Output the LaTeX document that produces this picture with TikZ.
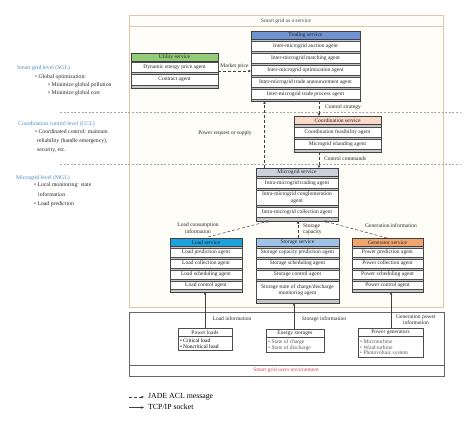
\documentclass[tikz,border=0pt]{standalone}
\usepackage{fontspec}
\setmainfont{Liberation Serif}
\usetikzlibrary{fit,arrows.meta}
\definecolor{utilg}{HTML}{93CB76}
\definecolor{tradeb}{HTML}{7094D2}
\definecolor{coordp}{HTML}{FAD8C8}
\definecolor{microg}{HTML}{C9D3DE}
\definecolor{loadb}{HTML}{1CA2DE}
\definecolor{storb}{HTML}{9FC4E7}
\definecolor{genor}{HTML}{F4A56D}
\definecolor{tanb}{HTML}{DCC6AC}
\definecolor{cream}{HTML}{FFFDF8}
\definecolor{lvlblue}{HTML}{4A8BBE}
\definecolor{envred}{HTML}{D9405E}
\newcommand\agfont{\fontsize{5.5}{6.3}\selectfont}
\newcommand\lvfont{\fontsize{5.7}{6.7}\selectfont}
\newcommand\agrow[6]{\node[rowbox, fit={(#2,#3) (#4,#5)}, label={[agtxt]center:{#6}}] (#1) {};}
\newcommand\svcbox[7]{%
  \node[svcouter, fit={(#2,#3) (#4,#5)}] (#1) {};
  \node[svchead, fill=#6, fit={(#2,#3) (#4,#3+8.5)}, label={[agtxt]center:{#7}}] (#1h) {};}
\tikzset{
  rowbox/.style={draw=black!70, fill=white, inner sep=0pt, outer sep=0pt, line width=0.4pt},
  svcouter/.style={draw=black!75, fill=black!22, inner sep=0pt, outer sep=0pt, line width=0.5pt},
  svchead/.style={draw=black!75, inner sep=0pt, outer sep=0pt, line width=0.4pt},
  agtxt/.style={font=\agfont, text=black!85, inner sep=0pt, align=center},
  lbl/.style={font=\agfont, text=black!85, inner sep=0pt, align=center},
  lvl/.style={font=\lvfont, text=black!85, inner sep=0pt, anchor=west},
  lvltitle/.style={font=\lvfont, text=lvlblue, inner sep=0pt, anchor=west},
  msg/.style={densely dashed, draw=black!75, line width=0.5pt, -{Stealth[length=3pt,width=2.6pt]}},
  sock/.style={draw=black!75, line width=0.5pt, -{Stealth[length=3pt,width=2.6pt]}},
  levelline/.style={draw=black!35, dash pattern=on 2pt off 1.6pt, line width=0.5pt},
  envbox/.style={draw=black!60, line width=0.5pt, inner sep=0pt, outer sep=0pt},
  itm/.style={font=\agfont, inner sep=0pt, anchor=west},
}
\begin{document}
\begin{tikzpicture}[x=1pt, y=-1pt]
\useasboundingbox (0,0) rectangle (474,428);
% outer service layer
\node[draw=tanb, fill=cream, line width=1pt, inner sep=0pt, fit={(129,16) (443,307)}] (sgaas) {};
\coordinate (tl) at (129,26); \coordinate (tr) at (443,26);
\draw[draw=tanb, line width=0.8pt] (tl) -- (tr);
\node[lbl, text=black!75] (sgaast) at (286,21) {Smart grid as a service};
% level lines
\coordinate (l1a) at (60,112); \coordinate (l1b) at (460,112);
\coordinate (l2a) at (60,164); \coordinate (l2b) at (460,164);
\draw[levelline] (l1a) -- (l1b);
\draw[levelline] (l2a) -- (l2b);
% left texts
\node[lvltitle] (sgl) at (17,68) {Smart grid level (SGL)};
\node[lvl] (sgl1) at (35,77) {\textbullet\ Global optimization:};
\node[lvl] (sgl2) at (48,85) {\textbullet\ Minimize global pollution};
\node[lvl] (sgl3) at (48,93.5) {\textbullet\ Minimize global cost};
\node[lvltitle] (ccl) at (18,124) {Coordination control level (CCL)};
\node[lvl] (ccl1) at (35,132) {\textbullet\ Coordinated control: maintain};
\node[lvl] (ccl2) at (37,141) {reliability (handle emergency),};
\node[lvl] (ccl3) at (37,150) {security, etc.};
\node[lvltitle] (mgl) at (16,178) {Microgrid level (MGL)};
\node[lvl] (mgl1) at (34,185.5) {\textbullet\ Local monitoring: state};
\node[lvl] (mgl2) at (38,194.5) {information};
\node[lvl] (mgl3) at (34,204) {\textbullet\ Load prediction};
% utility service
\svcbox{util}{131}{53}{218}{88}{utilg}{Utility service}
\agrow{ut1}{131}{62.5}{218}{72}{Dynamic energy price agent}
\agrow{ut2}{131}{74.5}{218}{85}{Contract agent}
% trading service
\svcbox{trade}{251}{31}{360}{101}{tradeb}{Trading service}
\agrow{tr1}{251}{41.5}{360}{51.4}{Inter-microgrid auction agent}
\agrow{tr2}{251}{53.4}{360}{63.3}{Inter-microgrid matching agent}
\agrow{tr3}{251}{65.3}{360}{75.2}{Inter-microgrid optimization agent}
\agrow{tr4}{251}{77.2}{360}{87.1}{Inter-microgrid trade announcement agent}
\agrow{tr5}{251}{89.1}{360}{99}{Inter-microgrid trade process agent}
% coordination service
\svcbox{coord}{294}{116}{381}{152}{coordp}{Coordination service}
\agrow{co1}{294}{127.5}{381}{137.5}{Coordination feasibility agent}
\agrow{co2}{294}{139.5}{381}{149.5}{Microgrid islanding agent}
% microgrid service
\svcbox{micro}{256}{168}{338}{221}{microg}{Microgrid service}
\agrow{mi1}{256}{178.5}{338}{188.5}{Intra-microgrid trading agent}
\agrow{mi2}{256}{190.5}{338}{205}{Intra-microgrid conglomeration\\agent}
\agrow{mi3}{256}{207}{338}{217.5}{Intra-microgrid collection agent}
% load service
\svcbox{load}{170}{238}{242}{292}{loadb}{Load service}
\agrow{lo1}{170}{248}{242}{256.9}{Load prediction agent}
\agrow{lo2}{170}{258.9}{242}{267.8}{Load collection agent}
\agrow{lo3}{170}{269.8}{242}{278.7}{Load scheduling agent}
\agrow{lo4}{170}{280.7}{242}{289.6}{Load control agent}
% storage service
\svcbox{stor}{256}{238}{339}{303}{storb}{Storage service}
\agrow{st1}{256}{248}{339}{256.9}{Storage capacity prediction agent}
\agrow{st2}{256}{258.9}{339}{267.8}{Storage scheduling agent}
\agrow{st3}{256}{269.8}{339}{278.7}{Storage control agent}
\agrow{st4}{256}{280.7}{339}{299.5}{Storage state of charge/discharge\\monitoring agent}
% generator service
\svcbox{gen}{352}{238}{423}{292}{genor}{Generator service}
\agrow{ge1}{352}{248}{423}{256.9}{Power prediction agent}
\agrow{ge2}{352}{258.9}{423}{267.8}{Power collection agent}
\agrow{ge3}{352}{269.8}{423}{278.7}{Power scheduling agent}
\agrow{ge4}{352}{280.7}{423}{289.6}{Power control agent}
% users environment
\node[envbox, fit={(129,312) (444,376)}] (env) {};
\coordinate (ela) at (129,365); \coordinate (elb) at (444,365);
\draw[draw=black!60, line width=0.5pt] (ela) -- (elb);
\node[lbl, text=envred] (envt) at (286,370.5) {Smart grid users environment};
% power loads
\node[envbox, draw=black!70, fill=white, fit={(178,328) (232,350)}] (pl) {};
\coordinate (pla) at (178,336.5); \coordinate (plb) at (232,336.5);
\draw[draw=black!70, line width=0.4pt] (pla) -- (plb);
\node[lbl] (plt) at (205,332.3) {Power loads};
\node[itm] (pl1) at (180,340.5) {\textbullet\,Critical load};
\node[itm] (pl2) at (180,346.3) {\textbullet\,Noncritical load};
% energy storages
\node[envbox, draw=black!70, fill=white, fit={(266,329) (324,352)}] (es) {};
\coordinate (esa) at (266,337.5); \coordinate (esb) at (324,337.5);
\draw[draw=black!70, line width=0.4pt] (esa) -- (esb);
\node[lbl] (est) at (295,333.3) {Energy storages};
\node[itm, text=black!65] (es1) at (268,341.8) {\textbullet\ State of charge};
\node[itm, text=black!65] (es2) at (268,348) {\textbullet\ State of discharge};
% power generators
\node[envbox, draw=black!70, fill=white, fit={(358,328) (423,357)}] (pg) {};
\coordinate (pga) at (358,336.5); \coordinate (pgb) at (423,336.5);
\draw[draw=black!70, line width=0.4pt] (pga) -- (pgb);
\node[lbl] (pgt) at (390.5,332.3) {Power generators};
\node[itm, text=black!65] (pg1) at (360,341.6) {\textbullet\ Microturbine};
\node[itm, text=black!65] (pg2) at (360,347.6) {\textbullet\ Wind turbine};
\node[itm, text=black!65] (pg3) at (360,353.6) {\textbullet\ Photovoltaic system};
% TCP/IP socket connectors
\draw[sock] (pl.north -| 205,0) -- (load.south -| 205,0);
\draw[sock] (es.north -| 294,0) -- (stor.south -| 294,0);
\draw[sock] (pg.north -| 391,0) -- (gen.south -| 391,0);
\node[lbl] (li) at (232,318.7) {Load information};
\node[lbl] (si) at (324,318.7) {Storage information};
\node[lbl] (gi) at (416,320) {Generation power\\information};
% JADE messages
\draw[msg] (util.east |- 0,71) -- (trade.west |- 0,71);
\node[lbl] (mp) at (234.5,66) {Market price};
\draw[msg] (trade.south -| 319,0) -- (coord.north -| 319,0);
\node[lbl, anchor=west] (cs) at (325,107.5) {Control strategy};
\draw[msg] (coord.south -| 319,0) -- (micro.north -| 319,0);
\node[lbl, anchor=west] (cc) at (324,158.5) {Control commands};
\draw[msg] (micro.north -| 264.5,0) -- (trade.south -| 264.5,0);
\node[lbl] (pr) at (225,133) {Power request or supply};
\coordinate (lcs) at (208,237);
\draw[msg] (lcs) -- (micro.south -| 269,0);
\node[lbl] (lc) at (198,228) {Load consumption\\information};
\draw[msg] (stor.north -| 298,0) -- (micro.south -| 298,0);
\node[lbl, anchor=west, align=left] (sc) at (303,229) {Storage\\capacity};
\draw[msg] (gen.north -| 387,0) -- (micro.south -| 324,0);
\node[lbl] (gci) at (391,226) {Generation information};
% legend
\coordinate (lg1a) at (129,397); \coordinate (lg1b) at (144,397);
\coordinate (lg2a) at (129,407.5); \coordinate (lg2b) at (144,407.5);
\draw[msg] (lg1a) -- (lg1b);
\draw[sock] (lg2a) -- (lg2b);
\node[font=\fontsize{7.8}{9}\selectfont, inner sep=0pt, anchor=west] (lgt1) at (148,396.5) {JADE ACL message};
\node[font=\fontsize{7.8}{9}\selectfont, inner sep=0pt, anchor=west] (lgt2) at (148,407) {TCP/IP socket};
\end{tikzpicture}
\end{document}
